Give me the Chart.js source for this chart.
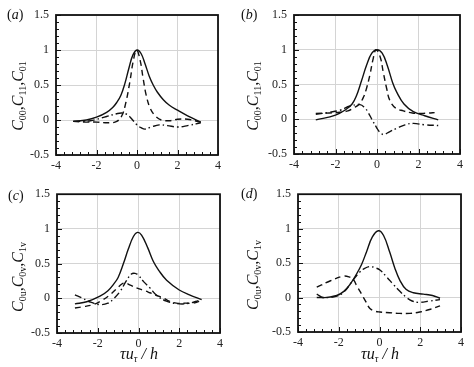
<!DOCTYPE html>
<html><head><meta charset="utf-8">
<script src="https://cdn.jsdelivr.net/npm/chart.js@4/dist/chart.umd.min.js"></script>
<style>
html,body{margin:0;padding:0;background:#fff;}
#wrap{position:relative;width:474px;height:367px;overflow:hidden;font-family:"Liberation Serif","DejaVu Serif",serif;color:#111;}
canvas{position:absolute;}
.plab{position:absolute;font-size:14px;line-height:16px;white-space:nowrap;}
.plab i{font-style:italic;}
.ytitle{position:absolute;font-size:16px;line-height:18px;font-style:italic;white-space:nowrap;transform:translate(-50%,-50%) rotate(-90deg);}
.ytitle sub{font-size:10px;font-style:normal;vertical-align:-3px;line-height:0;}
.xtitle{position:absolute;font-size:16px;line-height:18px;font-style:italic;white-space:nowrap;transform:translate(-50%,-50%);}
.xtitle sub{font-size:10px;vertical-align:-3px;line-height:0;}
</style></head>
<body>
<div id="wrap">
<canvas id="ca" width="237" height="180" style="left:0;top:0"></canvas>
<canvas id="cb" width="237" height="180" style="left:237px;top:0"></canvas>
<canvas id="cc" width="237" height="187" style="left:0;top:180px"></canvas>
<canvas id="cd" width="237" height="187" style="left:237px;top:180px"></canvas>
<div class="plab" style="left:7px;top:7px">(<i>a</i>)</div>
<div class="plab" style="left:241px;top:7px">(<i>b</i>)</div>
<div class="plab" style="left:8px;top:188px">(<i>c</i>)</div>
<div class="plab" style="left:241px;top:186px">(<i>d</i>)</div>
<div class="ytitle" style="left:18px;top:96px">C<sub>00</sub>,C<sub>11</sub>,C<sub>01</sub></div>
<div class="ytitle" style="left:253px;top:96px">C<sub>00</sub>,C<sub>11</sub>,C<sub>01</sub></div>
<div class="ytitle" style="left:18px;top:277px">C<sub>0u</sub>,C<sub>0v</sub>,C<sub>1v</sub></div>
<div class="ytitle" style="left:253px;top:275px">C<sub>0u</sub>,C<sub>0v</sub>,C<sub>1v</sub></div>
<div class="xtitle" style="left:139px;top:354px">τu<sub>τ</sub> / h</div>
<div class="xtitle" style="left:380px;top:354px">τu<sub>τ</sub> / h</div>
</div>
<script>
const xTicks=[-4,-2,0,2,4];
const yTicks=[-0.5,0,0.5,1,1.5];

// panel (a)
const aSolidX=[-3.15,-2.5,-2,-1.5,-1.2,-1,-0.8,-0.6,-0.4,-0.2,0,0.2,0.4,0.6,0.8,1,1.3,1.6,2,2.5,3.15];
const aSolidY=[-0.02,0,0.04,0.11,0.18,0.25,0.35,0.52,0.74,0.93,1.0,0.95,0.8,0.63,0.5,0.4,0.29,0.21,0.14,0.06,-0.03];
const aDashX=[-3.15,-2.5,-2,-1.4,-1,-0.75,-0.55,-0.35,-0.18,-0.02,0.15,0.3,0.45,0.65,0.9,1.2,1.6,2,2.5,3.15];
const aDashY=[-0.02,-0.03,-0.03,-0.04,-0.02,0.06,0.25,0.55,0.85,1.0,0.86,0.6,0.36,0.17,0.06,0.0,-0.01,0.01,0.01,-0.03];
const aDotX=[-3.15,-2.3,-1.5,-1,-0.75,-0.5,-0.3,0,0.2,0.4,0.7,1.1,1.5,2,2.5,3.15];
const aDotY=[-0.02,-0.01,0.05,0.09,0.1,0.08,0.03,-0.07,-0.11,-0.13,-0.1,-0.07,-0.08,-0.1,-0.08,-0.04];

// panel (b)
const bSolidX=[-2.95,-2,-1.5,-1.2,-1,-0.75,-0.5,-0.25,0,0.25,0.5,0.75,0.95,1.3,1.75,2.3,2.95];
const bSolidY=[-0.01,0.06,0.14,0.22,0.33,0.55,0.78,0.95,1.0,0.95,0.77,0.53,0.39,0.22,0.11,0.05,-0.01];
const bDashX=[-2.95,-2.3,-1.78,-1.4,-1.14,-0.85,-0.65,-0.5,-0.34,-0.2,-0.05,0.15,0.3,0.46,0.62,0.9,1.27,1.7,2.23,2.95];
const bDashY=[0.085,0.09,0.1,0.12,0.16,0.22,0.32,0.45,0.64,0.85,1.0,0.9,0.68,0.45,0.27,0.16,0.12,0.09,0.085,0.1];
const bDotX=[-2.95,-2.3,-1.78,-1.3,-0.82,-0.6,-0.45,-0.25,0,0.15,0.32,0.6,0.95,1.35,1.75,2.3,2.95];
const bDotY=[0.07,0.1,0.13,0.19,0.21,0.17,0.11,0.0,-0.13,-0.19,-0.22,-0.18,-0.13,-0.08,-0.06,-0.08,-0.09];

// panel (c)
const cSolidX=[-3.12,-2.54,-1.89,-1.5,-1.23,-1,-0.74,-0.5,-0.25,-0.05,0.15,0.45,0.73,1,1.38,2,2.5,3.1];
const cSolidY=[-0.08,-0.05,0.03,0.11,0.2,0.3,0.5,0.71,0.89,0.95,0.91,0.73,0.53,0.4,0.26,0.12,0.05,-0.02];
const cDashX=[-3.12,-2.7,-2.22,-1.8,-1.4,-1.1,-0.8,-0.65,-0.4,-0.1,0.3,0.56,0.9,1.21,1.5,1.86,2.3,2.68,3.09];
const cDashY=[-0.14,-0.12,-0.09,-0.03,0.05,0.13,0.21,0.22,0.19,0.15,0.11,0.08,0.04,0.005,-0.04,-0.07,-0.07,-0.07,-0.03];
const cDotX=[-3.12,-2.8,-2.4,-1.89,-1.5,-1.2,-0.9,-0.6,-0.35,-0.17,0,0.25,0.56,0.9,1.37,2,2.5,2.97];
const cDotY=[0.05,0.01,-0.05,-0.09,-0.07,0.0,0.1,0.25,0.35,0.36,0.33,0.24,0.15,0.04,-0.04,-0.08,-0.07,-0.03];

// panel (d)
const dSolidX=[-3.08,-2.76,-2.1,-1.75,-1.45,-1.15,-0.88,-0.63,-0.35,-0.05,0.2,0.5,0.75,1,1.3,1.66,2.15,2.6,2.97];
const dSolidY=[0.05,0.0,0.03,0.09,0.19,0.33,0.48,0.67,0.88,0.97,0.9,0.66,0.43,0.25,0.12,0.07,0.05,0.03,-0.01];
const dDashX=[-3.08,-2.43,-1.78,-1.5,-1.28,-1.1,-0.88,-0.65,-0.47,-0.2,0.02,0.5,1,1.5,1.98,2.5,2.97];
const dDashY=[0.15,0.24,0.31,0.3,0.26,0.16,0.05,-0.07,-0.16,-0.2,-0.21,-0.22,-0.23,-0.23,-0.21,-0.17,-0.12];
const dDotX=[-3.08,-2.5,-2.1,-1.75,-1.28,-1,-0.75,-0.47,-0.2,0.02,0.35,0.68,1,1.33,1.6,1.9,2.48,2.97];
const dDotY=[0.0,0.0,0.02,0.08,0.26,0.36,0.42,0.45,0.43,0.4,0.3,0.19,0.09,0.0,-0.05,-0.07,-0.05,-0.03];

const SOLID=[], DASH=[6,4], DASHDOT=[7,3,1.5,3];

const framePlugin={
  id:'frame',
  afterDraw(chart){
    const ctx=chart.ctx, a=chart.chartArea, xs=chart.scales.x, ys=chart.scales.y;
    ctx.save();
    ctx.strokeStyle='#111';
    ctx.lineWidth=1;
    ctx.beginPath();
    for(let i=0;i<=20;i++){
      const v=-4+0.4*i; const px=Math.round(xs.getPixelForValue(v))+0.5;
      const len=(i%5===0)?5:3;
      ctx.moveTo(px,a.bottom); ctx.lineTo(px,a.bottom-len);
    }
    for(let i=0;i<=20;i++){
      const v=-0.5+0.1*i; const py=Math.round(ys.getPixelForValue(v))+0.5;
      const len=(i%5===0)?5:3;
      ctx.moveTo(a.left,py); ctx.lineTo(a.left+len,py);
    }
    ctx.stroke();
    ctx.lineWidth=1.8;
    ctx.strokeRect(a.left,a.top,a.right-a.left,a.bottom-a.top);
    ctx.restore();
  }
};

function ds(xArr,yArr,dash){
  return {data:xArr.map((x,i)=>({x:x,y:yArr[i]})),borderColor:'#111',borderWidth:1.4,borderDash:dash,
    pointRadius:0,tension:0.4,fill:false};
}

function makePanel(id,series,pad,yw,xh){
  new Chart(document.getElementById(id),{
    type:'line',
    data:{datasets:series},
    options:{
      responsive:false,animation:false,
      layout:{padding:pad},
      plugins:{legend:{display:false},tooltip:{enabled:false}},
      scales:{
        x:{type:'linear',min:-4,max:4,
          afterBuildTicks:s=>{s.ticks=xTicks.map(v=>({value:v}));},
          afterFit:s=>{s.height=xh;},
          grid:{color:'#d4d4d4',lineWidth:1,drawTicks:false},
          border:{display:false},
          ticks:{padding:4,color:'#222',font:{family:'Liberation Serif',size:12},callback:v=>String(v),maxRotation:0}},
        y:{type:'linear',min:-0.5,max:1.5,
          afterBuildTicks:s=>{s.ticks=yTicks.map(v=>({value:v}));},
          afterFit:s=>{s.width=yw;},
          grid:{color:'#d4d4d4',lineWidth:1,drawTicks:false},
          border:{display:false},
          ticks:{padding:7,color:'#222',font:{family:'Liberation Serif',size:12},callback:v=>String(v)}}
      }
    },
    plugins:[framePlugin]
  });
}

makePanel('ca',[ds(aSolidX,aSolidY,SOLID),ds(aDashX,aDashY,DASH),ds(aDotX,aDotY,DASHDOT)],{left:0,top:15,right:19,bottom:0},56,25);
makePanel('cb',[ds(bSolidX,bSolidY,SOLID),ds(bDashX,bDashY,DASH),ds(bDotX,bDotY,DASHDOT)],{left:0,top:15,right:14,bottom:0},57,26);
makePanel('cc',[ds(cSolidX,cSolidY,SOLID),ds(cDashX,cDashY,DASH),ds(cDotX,cDotY,DASHDOT)],{left:0,top:13,right:17,bottom:0},57,34);
makePanel('cd',[ds(dSolidX,dSolidY,SOLID),ds(dDashX,dDashY,DASH),ds(dDotX,dDotY,DASHDOT)],{left:0,top:11,right:13,bottom:0},61,35);
</script>
</body></html>
